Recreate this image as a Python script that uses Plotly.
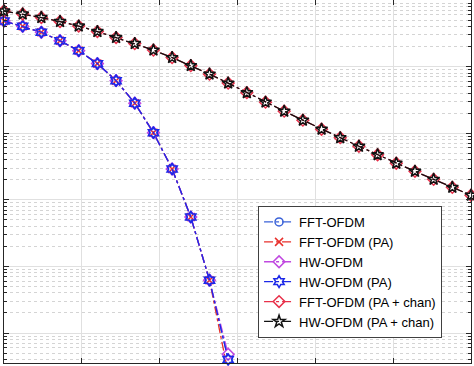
import plotly.graph_objects as go

# SNR axis (tick labels are cropped out of the reference, positions only)
snr = [0, 1.2, 2.4, 3.6, 4.8, 6.0, 7.2, 8.4, 9.6, 10.8, 12.0, 13.2, 14.4,
       15.6, 16.8, 18.0, 19.2, 20.4, 21.6, 22.8, 24.0, 25.2, 26.4, 27.6, 28.8, 30.0]
snr_short = snr[:13]

x_ticks = [0, 5, 10, 15, 20, 25, 30]
y_ticks = [1, 1e-1, 1e-2, 1e-3, 1e-4, 1e-5, 1e-6]
y_minor = [m * d for d in [1e-1, 1e-2, 1e-3, 1e-4, 1e-5, 1e-6] for m in range(2, 10)]

fft_ofdm = [0.483, 0.4027, 0.328, 0.2443, 0.173, 0.1109, 0.0615, 0.02825,
            0.01019, 0.0029, 5.51e-4, 6.22e-5, 4.0e-6]
fft_ofdm_pa = [0.483, 0.4027, 0.328, 0.2443, 0.173, 0.1109, 0.0615, 0.02825,
               0.01019, 0.0029, 5.51e-4, 6.22e-5, 2.5e-6]
hw_ofdm = [0.483, 0.4027, 0.328, 0.2443, 0.173, 0.1109, 0.0615, 0.02825,
           0.01019, 0.0029, 5.51e-4, 6.22e-5, 4.8e-6]
hw_ofdm_pa = [0.483, 0.4027, 0.328, 0.2443, 0.173, 0.1109, 0.0615, 0.02825,
              0.01019, 0.0029, 5.51e-4, 6.22e-5, 4.0e-6]
fft_ofdm_pa_chan = [0.683, 0.616, 0.5455, 0.475, 0.4065, 0.336, 0.273, 0.2218,
                    0.177, 0.1366, 0.1035, 0.0771, 0.0565, 0.0406, 0.02925,
                    0.02142, 0.01569, 0.01148, 0.00856, 0.00637, 0.00475,
                    0.00354, 0.00268, 0.00203, 0.00154, 0.00117]
hw_ofdm_pa_chan = [0.683, 0.616, 0.5455, 0.475, 0.4065, 0.336, 0.273, 0.2218,
                   0.177, 0.1366, 0.1035, 0.0771, 0.0565, 0.0406, 0.02925,
                   0.02142, 0.01569, 0.01148, 0.00856, 0.00637, 0.00475,
                   0.00354, 0.00268, 0.00203, 0.00154, 0.00117]

series = [
    ("FFT-OFDM", snr_short, fft_ofdm, "#3a62d8", "circle-open", 8),
    ("FFT-OFDM (PA)", snr_short, fft_ofdm_pa, "#e8302c", "x-thin-open", 8),
    ("HW-OFDM", snr_short, hw_ofdm, "#c048e0", "diamond-open", 9),
    ("HW-OFDM (PA)", snr_short, hw_ofdm_pa, "#1c28e8", "hexagram-open", 9),
    ("FFT-OFDM (PA + chan)", snr, fft_ofdm_pa_chan, "#e8304a", "diamond-open", 9),
    ("HW-OFDM (PA + chan)", snr, hw_ofdm_pa_chan, "#111111", "star-open", 9),
]

fig = go.Figure()
for name, xs, ys, col, sym, sz in series:
    fig.add_trace(go.Scatter(
        x=xs, y=ys, name=name, mode="lines+markers",
        line=dict(color=col, width=1.3, dash="dashdot"),
        marker=dict(symbol=sym, size=sz, color=col, line=dict(color=col, width=1.5)),
        cliponaxis=False,
    ))

axis_common = dict(
    showline=True, linecolor="#262626", linewidth=1, mirror="allticks",
    ticks="inside", ticklen=5, tickcolor="#262626", showticklabels=False,
    showgrid=True, gridcolor="#e0e0e0", gridwidth=1, zeroline=False,
    automargin=False,
)

fig.update_xaxes(range=[0, 30], tickmode="array", tickvals=x_ticks, **axis_common)
fig.update_yaxes(type="log", range=[-5.45, 0], tickmode="array", tickvals=y_ticks,
                 minor=dict(tickmode="array", tickvals=y_minor, ticks="inside", ticklen=3,
                            tickcolor="#262626", showgrid=True, griddash="dot",
                            gridcolor="#d4d4d4", gridwidth=1),
                 **axis_common)

fig.update_layout(
    width=474, height=366,
    margin=dict(l=4, r=3, t=0, b=3, pad=0, autoexpand=False),
    paper_bgcolor="white", plot_bgcolor="white",
    font=dict(family="Liberation Sans, Arial, sans-serif", size=13, color="#000000"),
    showlegend=True,
    legend=dict(x=0.544, y=0.4325, xanchor="left", yanchor="top",
                bgcolor="white", bordercolor="#404040", borderwidth=1,
                font=dict(size=13), tracegroupgap=0),
)

post = ("document.body.style.margin='0';document.body.style.padding='0';"
        "document.documentElement.style.overflow='hidden';"
        "var gd=document.getElementById('{plot_id}');"
        "Plotly.relayout(gd,{width:474,height:366});")

fig.write_html("out.html", post_script=post,
               config={"responsive": False, "displayModeBar": False})
